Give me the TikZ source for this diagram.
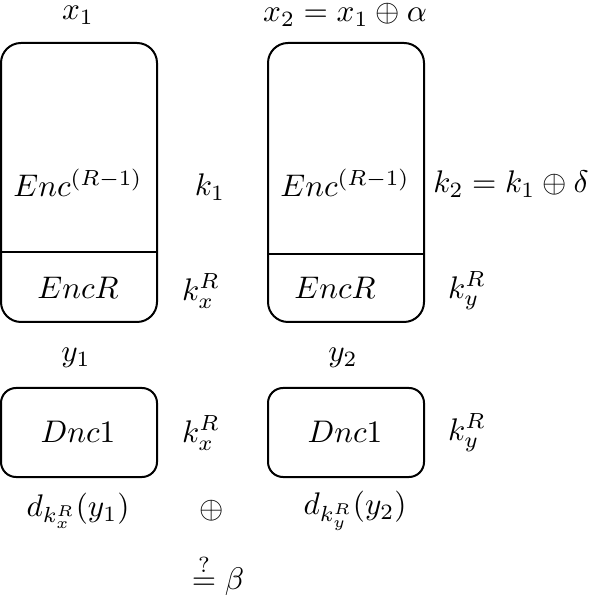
\documentclass[tikz,border=0pt]{standalone}
\usepackage{amsmath}
\begin{document}
\begin{tikzpicture}[x=0.32pt,y=-0.32pt,
  encbox/.style={draw,line width=0.64pt,rounded corners=6.4pt,minimum width=49.92pt,minimum height=89.28pt,inner sep=0pt,outer sep=0pt},
  dncbox/.style={draw,line width=0.64pt,rounded corners=4.8pt,minimum width=49.92pt,minimum height=28.48pt,inner sep=0pt,outer sep=0pt},
  lbl/.style={inner sep=0pt,font=\normalsize},
  divider/.style={line width=0.64pt}]
\useasboundingbox (0,0) rectangle (589,602);
% big boxes
\node[encbox] (E1) at (79,182.5) {};
\node[encbox] (E2) at (346,182.5) {};
\coordinate (d1l) at (1,252); \coordinate (d1r) at (157,252);
\coordinate (d2l) at (268,254); \coordinate (d2r) at (424,254);
\draw[divider] (d1l) -- (d1r);
\draw[divider] (d2l) -- (d2r);
% small boxes
\node[dncbox] (D1) at (79,432.5) {};
\node[dncbox] (D2) at (346,432.5) {};
% labels
\node[lbl] (x1) at (78,15) {$x_1$};
\node[lbl] (x2) at (345,15) {$x_2 = x_1 \oplus \alpha$};
\node[lbl] (enc1) at (78,183) {$Enc^{(R-1)}$};
\node[lbl] (enc2) at (345,183) {$Enc^{(R-1)}$};
\node[lbl] (k1) at (210,187) {$k_1$};
\node[lbl] (k2) at (511,184) {$k_2 = k_1 \oplus \delta$};
\node[lbl] (encR1) at (78,288) {$EncR$};
\node[lbl] (encR2) at (335,288) {$EncR$};
\node[lbl] (kx1) at (201,291) {$k_x^R$};
\node[lbl] (ky1) at (467,291) {$k_y^R$};
\node[lbl] (y1) at (76,358) {$y_1$};
\node[lbl] (y2) at (343,358) {$y_2$};
\node[lbl] (dnc1) at (78,432) {$Dnc1$};
\node[lbl] (dnc2) at (345,432) {$Dnc1$};
\node[lbl] (kx2) at (201,433) {$k_x^R$};
\node[lbl] (ky2) at (467,433) {$k_y^R$};
\node[lbl] (dk1) at (78,511) {$d_{k_x^R}(y_1)$};
\node[lbl] (dk2) at (355,511) {$d_{k_y^R}(y_2)$};
\node[lbl] (oplus) at (212,511) {$\oplus$};
\node[lbl] (beta) at (218,575) {$\overset{?}{=} \beta$};
\end{tikzpicture}
\end{document}
